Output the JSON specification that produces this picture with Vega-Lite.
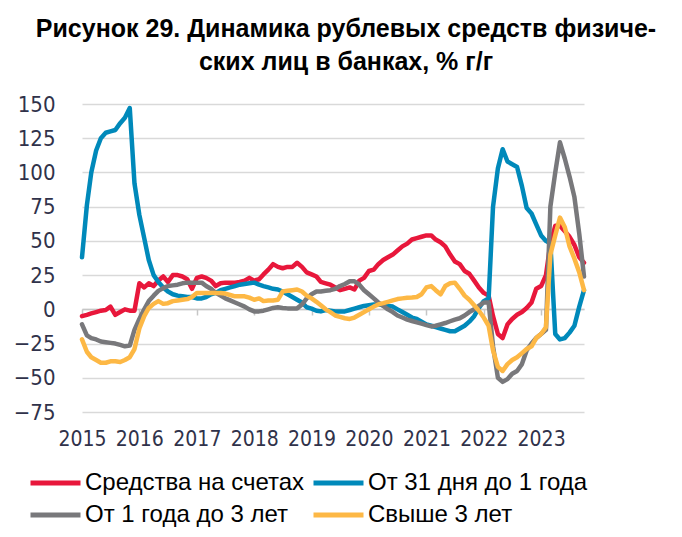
{
  "$schema": "https://vega.github.io/schema/vega-lite/v6.json",
  "autosize": "none",
  "padding": {"left": 82, "top": 104, "right": 98, "bottom": 125},
  "width": 502,
  "height": 308,
  "background": "white",
  "title": {
    "text": ["Рисунок 29. Динамика рублевых средств физиче-", "ских лиц в банках, % г/г"],
    "font": "Liberation Sans",
    "fontSize": 25,
    "fontWeight": "bold",
    "lineHeight": 33,
    "color": "#000000",
    "anchor": "middle",
    "frame": "group",
    "dx": 13,
    "offset": 18
  },
  "config": {
    "view": {"stroke": null},
    "legend": {
      "labelFont": "Liberation Sans",
      "labelFontSize": 24,
      "labelColor": "#000000"
    }
  },
  "datasets": {
    "deposits": [
      {"m": "2015-01", "r": -5, "b": 38, "g": -11, "y": -22},
      {"m": "2015-02", "r": -4, "b": 76, "g": -19, "y": -31},
      {"m": "2015-03", "r": -3, "b": 100, "g": -21, "y": -35},
      {"m": "2015-04", "r": -2, "b": 116, "g": -22, "y": -37},
      {"m": "2015-05", "r": -1, "b": 125, "g": -23.5, "y": -39},
      {"m": "2015-06", "r": -0.5, "b": 129, "g": -24, "y": -39},
      {"m": "2015-07", "r": 2, "b": 130, "g": -24.5, "y": -38},
      {"m": "2015-08", "r": -4, "b": 131, "g": -25, "y": -38},
      {"m": "2015-09", "r": -2, "b": 136, "g": -26, "y": -38.5},
      {"m": "2015-10", "r": 0, "b": 140, "g": -27, "y": -37},
      {"m": "2015-11", "r": -1, "b": 147, "g": -26.5, "y": -35},
      {"m": "2015-12", "r": -1, "b": 92, "g": -15, "y": -29},
      {"m": "2016-01", "r": 19, "b": 69, "g": -7, "y": -14},
      {"m": "2016-02", "r": 16, "b": 52, "g": 0, "y": -5},
      {"m": "2016-03", "r": 19, "b": 36, "g": 6, "y": 1},
      {"m": "2016-04", "r": 17, "b": 25, "g": 10, "y": 4},
      {"m": "2016-05", "r": 21, "b": 20, "g": 13.5, "y": 6},
      {"m": "2016-06", "r": 24, "b": 16, "g": 15.5, "y": 4},
      {"m": "2016-07", "r": 20, "b": 13, "g": 17, "y": 4.5},
      {"m": "2016-08", "r": 25, "b": 11, "g": 17.5, "y": 6},
      {"m": "2016-09", "r": 25, "b": 10, "g": 18, "y": 6.5},
      {"m": "2016-10", "r": 24, "b": 9.5, "g": 19, "y": 7},
      {"m": "2016-11", "r": 22, "b": 9, "g": 19.5, "y": 7.5},
      {"m": "2016-12", "r": 15, "b": 9, "g": 19.5, "y": 9},
      {"m": "2017-01", "r": 23, "b": 8, "g": 19.5, "y": 12},
      {"m": "2017-02", "r": 24, "b": 8, "g": 19.5, "y": 12},
      {"m": "2017-03", "r": 23, "b": 9, "g": 17, "y": 12},
      {"m": "2017-04", "r": 21, "b": 11, "g": 15, "y": 12},
      {"m": "2017-05", "r": 17, "b": 12, "g": 12, "y": 12},
      {"m": "2017-06", "r": 19, "b": 14, "g": 10, "y": 12},
      {"m": "2017-07", "r": 19.5, "b": 15, "g": 8, "y": 11.5},
      {"m": "2017-08", "r": 19.5, "b": 16, "g": 6.5, "y": 10.5},
      {"m": "2017-09", "r": 19.5, "b": 17, "g": 5, "y": 9.5},
      {"m": "2017-10", "r": 20, "b": 18, "g": 3.5, "y": 9.5},
      {"m": "2017-11", "r": 21, "b": 18.5, "g": 2, "y": 9.5},
      {"m": "2017-12", "r": 23, "b": 19, "g": 0, "y": 8.5},
      {"m": "2018-01", "r": 21, "b": 19.5, "g": -1.5, "y": 7},
      {"m": "2018-02", "r": 22, "b": 18, "g": -1.5, "y": 8},
      {"m": "2018-03", "r": 25.5, "b": 17, "g": -1, "y": 6},
      {"m": "2018-04", "r": 29, "b": 16, "g": 0, "y": 6.5},
      {"m": "2018-05", "r": 33, "b": 15, "g": 1, "y": 6.5},
      {"m": "2018-06", "r": 31, "b": 14.5, "g": 1.5, "y": 7},
      {"m": "2018-07", "r": 30, "b": 13, "g": 1, "y": 13},
      {"m": "2018-08", "r": 31, "b": 11, "g": 0.7, "y": 13.5},
      {"m": "2018-09", "r": 31, "b": 9, "g": 0.7, "y": 14},
      {"m": "2018-10", "r": 34, "b": 7, "g": 0.7, "y": 14.5},
      {"m": "2018-11", "r": 31, "b": 5, "g": 3.5, "y": 13},
      {"m": "2018-12", "r": 27, "b": 1.5, "g": 8, "y": 10},
      {"m": "2019-01", "r": 25.5, "b": 0.5, "g": 11, "y": 8},
      {"m": "2019-02", "r": 24, "b": -1, "g": 13, "y": 5.5},
      {"m": "2019-03", "r": 20, "b": -1.5, "g": 13, "y": 3},
      {"m": "2019-04", "r": 19, "b": -0.5, "g": 13.5, "y": 0},
      {"m": "2019-05", "r": 18, "b": -1, "g": 14, "y": -2},
      {"m": "2019-06", "r": 16, "b": -1.5, "g": 15, "y": -4.5},
      {"m": "2019-07", "r": 14, "b": -1.5, "g": 17, "y": -5.5},
      {"m": "2019-08", "r": 15, "b": -1.5, "g": 18.5, "y": -6.5},
      {"m": "2019-09", "r": 16, "b": -0.5, "g": 20.5, "y": -7},
      {"m": "2019-10", "r": 14.5, "b": 0.5, "g": 20.5, "y": -6},
      {"m": "2019-11", "r": 21, "b": 1.5, "g": 18, "y": -4},
      {"m": "2019-12", "r": 23, "b": 2.5, "g": 14, "y": -2},
      {"m": "2020-01", "r": 28, "b": 3, "g": 11, "y": 0},
      {"m": "2020-02", "r": 29, "b": 3.5, "g": 8, "y": 2},
      {"m": "2020-03", "r": 33, "b": 3.6, "g": 5, "y": 3.6},
      {"m": "2020-04", "r": 36, "b": 3, "g": 2.5, "y": 4.5},
      {"m": "2020-05", "r": 38, "b": 2.5, "g": 0, "y": 5.5},
      {"m": "2020-06", "r": 40, "b": 2, "g": -2, "y": 6.5},
      {"m": "2020-07", "r": 43, "b": 0, "g": -4.5, "y": 7.5},
      {"m": "2020-08", "r": 46, "b": -2, "g": -6, "y": 8},
      {"m": "2020-09", "r": 48, "b": -4, "g": -7.5, "y": 8.5},
      {"m": "2020-10", "r": 51, "b": -6, "g": -8.5, "y": 8.7},
      {"m": "2020-11", "r": 52, "b": -7, "g": -9.5, "y": 9},
      {"m": "2020-12", "r": 53, "b": -9, "g": -10.5, "y": 11},
      {"m": "2021-01", "r": 54, "b": -11, "g": -11.5, "y": 16},
      {"m": "2021-02", "r": 54, "b": -12, "g": -12.5, "y": 17},
      {"m": "2021-03", "r": 51, "b": -13, "g": -12, "y": 14},
      {"m": "2021-04", "r": 49, "b": -14, "g": -11, "y": 11},
      {"m": "2021-05", "r": 46, "b": -15, "g": -10, "y": 17},
      {"m": "2021-06", "r": 40, "b": -16, "g": -8.7, "y": 19},
      {"m": "2021-07", "r": 35, "b": -16, "g": -7.5, "y": 19.5},
      {"m": "2021-08", "r": 33, "b": -14, "g": -6.5, "y": 15},
      {"m": "2021-09", "r": 28, "b": -12, "g": -4.5, "y": 10},
      {"m": "2021-10", "r": 26, "b": -9, "g": -2, "y": 7},
      {"m": "2021-11", "r": 21, "b": -5, "g": 0, "y": 3},
      {"m": "2021-12", "r": 16, "b": 1, "g": 2.5, "y": -1},
      {"m": "2022-01", "r": 12, "b": 6, "g": 5, "y": -6},
      {"m": "2022-02", "r": 10, "b": 8, "g": 5, "y": -12},
      {"m": "2022-03", "r": -5, "b": 75, "g": -27, "y": -30},
      {"m": "2022-04", "r": -18, "b": 103, "g": -50, "y": -42},
      {"m": "2022-05", "r": -21, "b": 117, "g": -53, "y": -45},
      {"m": "2022-06", "r": -11, "b": 108, "g": -51, "y": -40},
      {"m": "2022-07", "r": -7, "b": 106, "g": -47, "y": -37},
      {"m": "2022-08", "r": -4, "b": 104, "g": -45, "y": -35},
      {"m": "2022-09", "r": -2, "b": 90, "g": -40, "y": -32},
      {"m": "2022-10", "r": 1, "b": 74, "g": -30, "y": -29},
      {"m": "2022-11", "r": 5, "b": 70, "g": -25, "y": -27},
      {"m": "2022-12", "r": 15, "b": 62, "g": -21, "y": -21},
      {"m": "2023-01", "r": 17, "b": 54, "g": -18, "y": -18},
      {"m": "2023-02", "r": 25, "b": 50, "g": -15, "y": -13},
      {"m": "2023-03", "r": 48, "b": 48, "g": 75, "y": 40},
      {"m": "2023-04", "r": 61, "b": -18, "g": 100, "y": 54},
      {"m": "2023-05", "r": 61, "b": -22, "g": 122, "y": 67},
      {"m": "2023-06", "r": 57, "b": -21, "g": 110, "y": 60},
      {"m": "2023-07", "r": 53, "b": -17, "g": 97, "y": 46},
      {"m": "2023-08", "r": 47, "b": -12, "g": 82, "y": 37},
      {"m": "2023-09", "r": 38, "b": 2, "g": 55, "y": 27},
      {"m": "2023-10", "r": 34, "b": 14, "g": 24, "y": 14}
    ]
  },
  "data": {"name": "deposits", "format": {"parse": {"m": "utc:'%Y-%m'"}}},
  "transform": [
    {"fold": ["r", "b", "g", "y"], "as": ["series", "value"]}
  ],
  "mark": {
    "type": "line",
    "strokeWidth": 4.5,
    "strokeJoin": "round",
    "strokeCap": "round",
    "clip": false
  },
  "encoding": {
    "x": {
      "field": "m",
      "type": "temporal",
      "scale": {
        "type": "utc",
        "domain": [
          {"year": 2015, "month": 1, "date": 1, "utc": true},
          {"year": 2023, "month": 10, "date": 1, "utc": true}
        ]
      },
      "axis": {
        "title": null,
        "format": "%Y",
        "tickCount": {"interval": "year", "step": 1},
        "grid": false,
        "offset": -103,
        "domainColor": "#c6c6c6",
        "domainWidth": 1.5,
        "tickColor": "#c6c6c6",
        "tickWidth": 1.5,
        "tickSize": 6,
        "labelPadding": 113,
        "labelFont": "DejaVu Sans Condensed, Liberation Sans",
        "labelFontSize": 21,
        "labelColor": "#30324a",
        "labelFlush": false,
        "labelOverlap": false,
        "labelBound": false
      }
    },
    "y": {
      "field": "value",
      "type": "quantitative",
      "scale": {"domain": [-75, 150], "nice": false, "zero": false},
      "axis": {
        "title": null,
        "values": [-75, -50, -25, 0, 25, 50, 75, 100, 125, 150],
        "domain": false,
        "ticks": false,
        "grid": true,
        "gridColor": "#d9d9d9",
        "gridWidth": 1.5,
        "labelPadding": 27,
        "labelFont": "DejaVu Sans Condensed, Liberation Sans",
        "labelFontSize": 22,
        "labelColor": "#30324a"
      }
    },
    "color": {
      "field": "series",
      "type": "nominal",
      "scale": {
        "domain": ["r", "b", "g", "y"],
        "range": ["#e8173b", "#0089ba", "#78787b", "#fdb845"]
      },
      "legend": {
        "title": null,
        "orient": "none",
        "legendX": -54,
        "legendY": 367,
        "direction": "horizontal",
        "columns": 2,
        "columnPadding": 6,
        "rowPadding": 8,
        "clipHeight": 24,
        "symbolType": "stroke",
        "symbolSize": 2500,
        "symbolStrokeWidth": 5,
        "labelOffset": 2,
        "labelLimit": 400,
        "labelExpr": "datum.label == 'r' ? 'Средства на счетах' : datum.label == 'b' ? 'От 31 дня до 1 года' : datum.label == 'g' ? 'От 1 года до 3 лет' : 'Свыше 3 лет'"
      }
    }
  }
}
